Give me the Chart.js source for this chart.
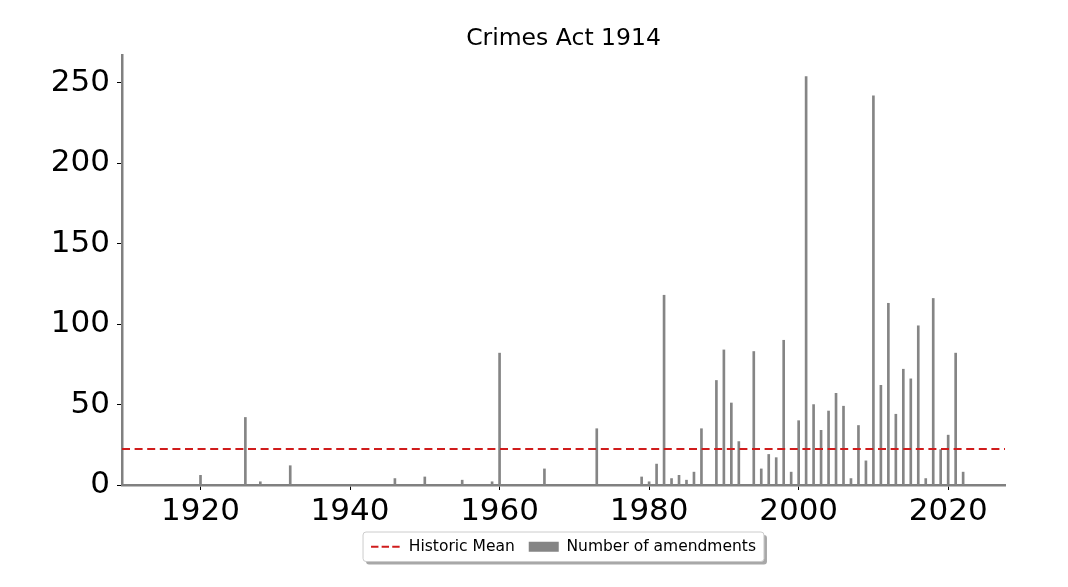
<!DOCTYPE html>
<html>
<head>
<meta charset="utf-8">
<script src="https://cdn.jsdelivr.net/npm/chart.js@4.4.0/dist/chart.umd.min.js"></script>
<style>
  body { margin: 0; background: #fff; }
  canvas { display: block; }
</style>
</head>
<body>
<canvas id="amendChart" width="1068" height="587"></canvas>
<script>
// years with at least one amendment, and how many
const years = [1920, 1926, 1928, 1932, 1946, 1950, 1955, 1959, 1960, 1966, 1973,
  1979, 1980, 1981, 1982, 1983, 1984, 1985, 1986, 1987, 1989, 1990, 1991, 1992,
  1994, 1995, 1996, 1997, 1998, 1999, 2000, 2001, 2002, 2003, 2004, 2005, 2006,
  2007, 2008, 2009, 2010, 2011, 2012, 2013, 2014, 2015, 2016, 2017, 2018, 2019,
  2020, 2021, 2022];
const amendments = [6, 42, 2, 12, 4, 5, 3, 2, 82, 10, 35,
  5, 2, 13, 118, 4, 6, 3, 8, 35, 65, 84, 51, 27,
  83, 10, 19, 17, 90, 8, 40, 254, 50, 34, 46, 57, 49,
  4, 37, 15, 242, 62, 113, 44, 72, 66, 99, 4, 116, 22,
  31, 82, 8];
const historicMean = 22.4;
const xTicks = [1920, 1940, 1960, 1980, 2000, 2020];
const yTicks = [0, 50, 100, 150, 200, 250];
const xMin = 1909.5, xMax = 2027.6;
const yMax = 267.4;

const meanDash = [8, 4.6];

Chart.defaults.font.family = '"DejaVu Sans", sans-serif';
Chart.defaults.color = '#000';

// box with a soft shadow behind the legend
const legendFrame = {
  id: 'legendFrame',
  beforeDraw(chart) {
    const boxes = chart.legend && chart.legend.legendHitBoxes;
    if (!boxes || !boxes.length) return;
    const left = Math.min(...boxes.map(b => b.left)) - 8;
    const right = Math.max(...boxes.map(b => b.left + b.width)) + 8;
    const top = Math.min(...boxes.map(b => b.top)) - 7;
    const bottom = Math.max(...boxes.map(b => b.top + b.height)) + 7;
    const ctx = chart.ctx;
    ctx.save();
    ctx.fillStyle = '#a8a8a8';
    ctx.beginPath();
    ctx.roundRect(left + 3, top + 3, right - left, bottom - top, 3);
    ctx.fill();
    ctx.fillStyle = '#fff';
    ctx.strokeStyle = '#cccccc';
    ctx.lineWidth = 1;
    ctx.beginPath();
    ctx.roundRect(left, top, right - left, bottom - top, 3);
    ctx.fill();
    ctx.stroke();
    ctx.restore();
  }
};

new Chart(document.getElementById('amendChart'), {
  type: 'bar',
  data: {
    datasets: [{
      type: 'line',
      label: 'Historic Mean',
      data: [{ x: xMin, y: historicMean }, { x: xMax, y: historicMean }],
      borderColor: '#d01c1c',
      backgroundColor: '#d01c1c',
      borderWidth: 2,
      borderDash: meanDash,
      pointRadius: 0,
      pointStyle: 'line'
    }, {
      type: 'bar',
      label: 'Number of amendments',
      data: years.map((yr, i) => ({ x: yr, y: amendments[i] })),
      backgroundColor: '#858585',
      borderWidth: 0,
      barThickness: 2,
      grouped: false,
      pointStyle: 'rect'
    }]
  },
  options: {
    responsive: false,
    animation: false,
    devicePixelRatio: 1,
    layout: { padding: { left: 0, right: 63, top: 0, bottom: 22.5 } },
    plugins: {
      title: {
        display: true,
        fullSize: false,
        text: 'Crimes Act 1914',
        font: { size: 23.5, weight: 'normal' },
        padding: { top: 24.5, bottom: 2.3 }
      },
      legend: {
        position: 'bottom',
        fullSize: false,
        labels: {
          usePointStyle: true,
          pointStyleWidth: 30,
          boxHeight: 10,
          padding: 14,
          font: { size: 15.5 },
          color: '#000',
          generateLabels(chart) {
            const items = Chart.defaults.plugins.legend.labels.generateLabels(chart);
            items[0].lineDash = [7.4, 3.2];
            items[0].lineWidth = 2;
            items[1].lineWidth = 0;
            return items;
          }
        }
      },
      tooltip: { enabled: false }
    },
    scales: {
      x: {
        type: 'linear',
        offset: false,
        min: xMin,
        max: xMax,
        afterBuildTicks: s => { s.ticks = xTicks.map(v => ({ value: v })); },
        afterFit: s => { s.height = 40; },
        ticks: { font: { size: 31 }, padding: 3, maxRotation: 0, callback: v => String(v) },
        grid: { drawOnChartArea: false, tickLength: 5, color: '#000', offset: false },
        border: { color: '#808080', width: 2.5 }
      },
      y: {
        min: 0,
        max: yMax,
        afterBuildTicks: s => { s.ticks = yTicks.map(v => ({ value: v })); },
        afterFit: s => { s.width = 122; },
        ticks: { font: { size: 31 }, padding: 7 },
        grid: { drawOnChartArea: false, tickLength: 5, color: '#000' },
        border: { color: '#808080', width: 2.5 }
      }
    }
  },
  plugins: [legendFrame]
});
</script>
</body>
</html>
